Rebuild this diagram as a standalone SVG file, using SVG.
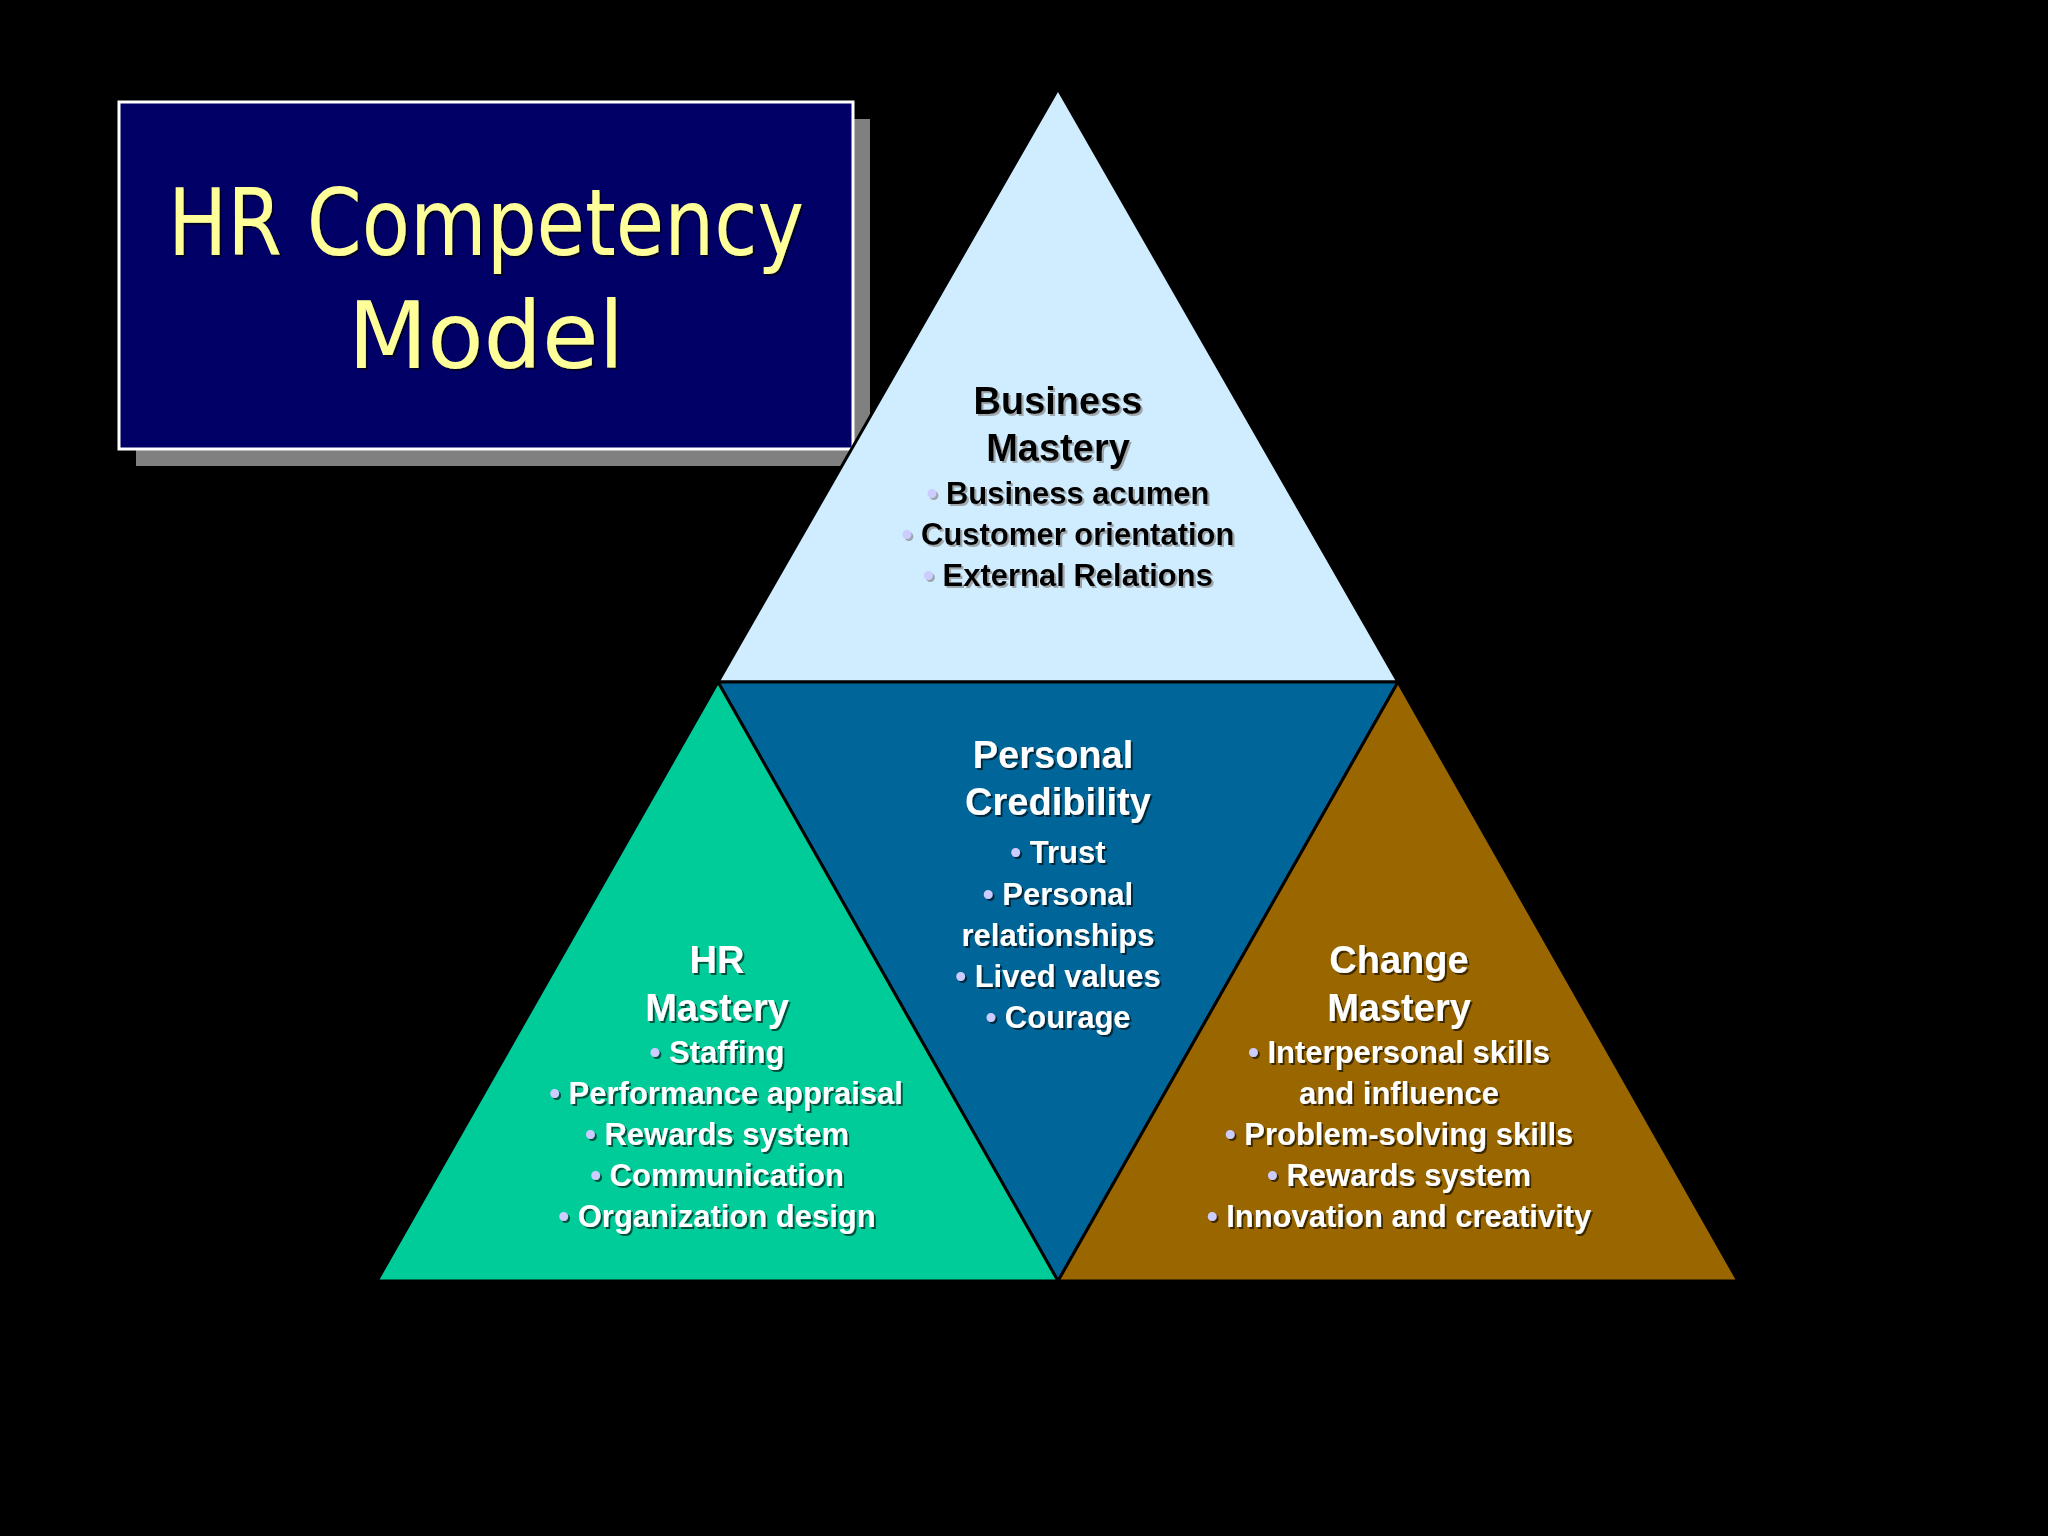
<svg xmlns="http://www.w3.org/2000/svg" width="2048" height="1536" viewBox="0 0 2048 1536">
<defs>
<filter id="sh" x="-10%" y="-10%" width="120%" height="130%"><feDropShadow dx="2" dy="2" stdDeviation="0.5" flood-color="#000" flood-opacity="0.6"/></filter>
<filter id="shl" x="-10%" y="-10%" width="120%" height="130%"><feDropShadow dx="2" dy="2" stdDeviation="0.5" flood-color="#888" flood-opacity="0.7"/></filter>
<style>
.t{font-family:"Liberation Sans",Arial,sans-serif;font-weight:bold;text-anchor:middle}
.h{font-size:38px}.b{font-size:31px}
.w{fill:#fff;filter:url(#sh)}.k{fill:#000;filter:url(#shl)}
.bl{fill:#CCCCFF}
.tri{stroke:#000;stroke-width:3}
</style>
</defs>
<rect width="2048" height="1536" fill="#000"/>
<g id="title">
<rect x="136" y="119" width="734" height="347" fill="#808080"/>
<rect x="119" y="102" width="734" height="347" fill="#000066" stroke="#fff" stroke-width="3"/>
<text x="486" y="255" font-family="'DejaVu Sans',Verdana,sans-serif" font-size="92" fill="#FFFF99" text-anchor="middle" filter="url(#sh)" textLength="636" lengthAdjust="spacingAndGlyphs">HR Competency</text>
<text x="486" y="368" font-family="'DejaVu Sans',Verdana,sans-serif" font-size="92" fill="#FFFF99" text-anchor="middle" filter="url(#sh)">Model</text>
</g>
<g id="business">
<polygon class="tri" points="1058,89 1398,682 718,682" fill="#D0ECFF"/>
<text class="t h k" x="1058" y="414">Business</text>
<text class="t h k" x="1058" y="461">Mastery</text>
<text class="t b k" x="1068" y="504"><tspan class="bl">• </tspan>Business acumen</text>
<text class="t b k" x="1068" y="545"><tspan class="bl">• </tspan>Customer orientation</text>
<text class="t b k" x="1068" y="586"><tspan class="bl">• </tspan>External Relations</text>
</g>
<g id="personal">
<polygon class="tri" points="718,682 1398,682 1058,1281" fill="#006699"/>
<text class="t h w" x="1053" y="768">Personal</text>
<text class="t h w" x="1058" y="815">Credibility</text>
<text class="t b w" x="1058" y="863"><tspan class="bl">• </tspan>Trust</text>
<text class="t b w" x="1058" y="905"><tspan class="bl">• </tspan>Personal</text>
<text class="t b w" x="1058" y="946">relationships</text>
<text class="t b w" x="1058" y="987"><tspan class="bl">• </tspan>Lived values</text>
<text class="t b w" x="1058" y="1028"><tspan class="bl">• </tspan>Courage</text>
</g>
<g id="hr">
<polygon class="tri" points="718,682 1058,1281 377,1281" fill="#00CC99"/>
<text class="t h w" x="717" y="973">HR</text>
<text class="t h w" x="717" y="1021">Mastery</text>
<text class="t b w" x="717" y="1063"><tspan class="bl">• </tspan>Staffing</text>
<text class="t b w" x="726" y="1104"><tspan class="bl">• </tspan>Performance appraisal</text>
<text class="t b w" x="717" y="1145"><tspan class="bl">• </tspan>Rewards system</text>
<text class="t b w" x="717" y="1186"><tspan class="bl">• </tspan>Communication</text>
<text class="t b w" x="717" y="1227"><tspan class="bl">• </tspan>Organization design</text>
</g>
<g id="change">
<polygon class="tri" points="1398,682 1738,1281 1058,1281" fill="#996600"/>
<text class="t h w" x="1399" y="973">Change</text>
<text class="t h w" x="1399" y="1021">Mastery</text>
<text class="t b w" x="1399" y="1063"><tspan class="bl">• </tspan>Interpersonal skills</text>
<text class="t b w" x="1399" y="1104">and influence</text>
<text class="t b w" x="1399" y="1145"><tspan class="bl">• </tspan>Problem-solving skills</text>
<text class="t b w" x="1399" y="1186"><tspan class="bl">• </tspan>Rewards system</text>
<text class="t b w" x="1399" y="1227"><tspan class="bl">• </tspan>Innovation and creativity</text>
</g>
<g id="connectors"/>
</svg>
